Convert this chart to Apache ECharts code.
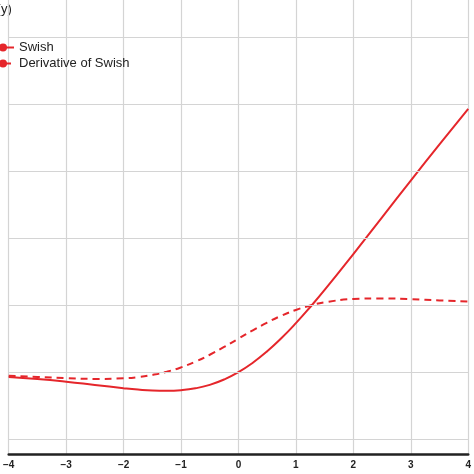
<!DOCTYPE html>
<html>
<head>
<meta charset="utf-8">
<script src="https://cdn.jsdelivr.net/npm/echarts@6/dist/echarts.min.js"></script>
<style>html,body{margin:0;padding:0;background:#fff}#chart{width:474px;height:474px}</style>
</head>
<body>
<div id="chart"></div>
<script>
var xs = [-4, -3.5, -3, -2.5, -2, -1.75, -1.5, -1.25, -1, -0.75, -0.5, -0.25, 0, 0.25, 0.5, 0.75, 1, 1.25, 1.5, 2, 2.5, 3, 3.5, 4]
var swish = [-0.072, -0.102, -0.142, -0.19, -0.238, -0.259, -0.274, -0.278, -0.269, -0.241, -0.189, -0.109, 0, 0.141, 0.311, 0.509, 0.731, 0.972, 1.226, 1.762, 2.31, 2.858, 3.398, 3.928]
var dswish = [-0.053, -0.07, -0.088, -0.1, -0.091, -0.073, -0.041, 0.006, 0.072, 0.157, 0.26, 0.376, 0.5, 0.624, 0.74, 0.843, 0.928, 0.994, 1.041, 1.091, 1.1, 1.088, 1.07, 1.053]
var yGrid = [-1, 0, 1, 2, 3, 4, 5]

var red = '#e5262b'
var chart = echarts.init(document.getElementById('chart'))

function pairs(ys) {
  return xs.map(function (x, i) { return [x, ys[i]] })
}

chart.setOption({
  animation: false,
  grid: { left: 3, right: 3, top: 0, bottom: 20 },
  legend: {
    orient: 'vertical',
    left: -14,
    top: 36,
    itemWidth: 22,
    itemHeight: 10,
    itemGap: 3,
    textStyle: { fontFamily: 'Liberation Sans', fontSize: 13, color: '#222' },
    data: ['Swish', 'Derivative of Swish']
  },
  graphic: [{
    type: 'text', left: -7, top: 3,
    style: { text: 'f(y)', font: '13px Liberation Sans', fill: '#222' }
  }],
  xAxis: {
    type: 'value', min: -4, max: 4, interval: 1,
    axisLine: { onZero: false, lineStyle: { color: '#222', width: 2.5 } },
    axisTick: { show: false },
    axisLabel: {
      fontFamily: 'Liberation Sans', fontSize: 10, fontWeight: 'bold', color: '#222', margin: 6,
      formatter: function (v) { return String(v).replace('-', '\u2212') }
    },
    splitLine: { lineStyle: { color: '#d4d4d4', width: 1.2 } }
  },
  yAxis: {
    type: 'value', min: -1.22, max: 5.55,
    axisLine: { show: false }, axisTick: { show: false }, axisLabel: { show: false },
    splitLine: { show: false }
  },
  series: [{
    name: 'Swish', type: 'line', data: pairs(swish), smooth: true, symbol: 'none',
    lineStyle: { color: red, width: 2 }, itemStyle: { color: red },
    markLine: {
      silent: true, symbol: 'none', label: { show: false },
      lineStyle: { color: '#d4d4d4', width: 1.2, type: 'solid' },
      data: yGrid.map(function (v) { return { yAxis: v } })
    }
  }, {
    name: 'Derivative of Swish', type: 'line', data: pairs(dswish), smooth: true, symbol: 'none',
    lineStyle: { color: red, width: 2, type: [7, 5] }, itemStyle: { color: red }
  }]
})
</script>
</body>
</html>
